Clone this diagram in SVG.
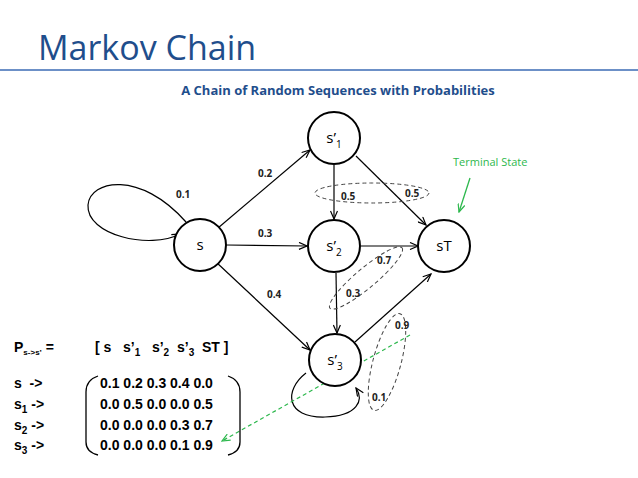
<svg xmlns="http://www.w3.org/2000/svg" width="638" height="478" viewBox="0 0 638 478">
<defs>
<marker id="a" markerWidth="10" markerHeight="8" refX="9" refY="4" orient="auto" markerUnits="userSpaceOnUse"><path d="M1,0.5 L9,4 L1,7.5" fill="none" stroke="#000" stroke-width="1.2"/></marker>
<marker id="g" markerWidth="10" markerHeight="8" refX="9" refY="4" orient="auto" markerUnits="userSpaceOnUse"><path d="M1,0.5 L9,4 L1,7.5" fill="none" stroke="#2db84d" stroke-width="1.2"/></marker>
</defs>
<style>
text{font-family:"Open Sans","Liberation Sans",sans-serif}
.n{fill:#fff;stroke:#000;stroke-width:2}
.nl{font-size:15px;text-anchor:middle}
.e{fill:none;stroke:#000;stroke-width:1.2;marker-end:url(#a)}
.p{font-size:10px;font-weight:bold;fill:#222}
.d{fill:none;stroke:#444;stroke-width:1;stroke-dasharray:4,3}
.m{font-size:14px;font-weight:bold;font-family:"Liberation Sans",sans-serif;white-space:pre}
</style>
<rect width="638" height="478" fill="#fff"/>
<text x="38" y="60" font-size="34" fill="#1f4e8c">Markov Chain</text>
<line x1="0" y1="70" x2="638" y2="70" stroke="#3b6bb5" stroke-width="1.5"/>
<text x="338" y="95" font-size="13" font-weight="bold" fill="#1f4e8c" text-anchor="middle">A Chain of Random Sequences with Probabilities</text>
<g id="connectors">
<path class="e" d="M186,222 C140,170 90,180 88,205 C86,235 150,250 180,234"/>
<line class="e" x1="218" y1="228" x2="310" y2="150"/>
<line class="e" x1="226" y1="245" x2="307" y2="246"/>
<line class="e" x1="216" y1="262" x2="310" y2="350"/>
<line class="e" x1="334" y1="165" x2="334" y2="219"/>
<line class="e" x1="356" y1="156" x2="426" y2="225"/>
<line class="e" x1="361" y1="246" x2="418" y2="246"/>
<line class="e" x1="336" y1="273" x2="337" y2="333"/>
<line class="e" x1="355" y1="342" x2="431" y2="274"/>
<path class="e" d="M306,373 C284,390 285,418 325,417 C358,416 364,400 356,388"/>
<line x1="470" y1="178" x2="459" y2="212" stroke="#2db84d" stroke-width="1.3" marker-end="url(#g)"/>
<line x1="410" y1="335" x2="222" y2="441" stroke="#2db84d" stroke-width="1.2" stroke-dasharray="4,3" marker-end="url(#g)"/>
</g>
<ellipse class="d" cx="372" cy="193" rx="57" ry="10"/>
<ellipse class="d" cx="366" cy="278" rx="47" ry="10" transform="rotate(-40 366 278)"/>
<ellipse class="d" cx="387" cy="362" rx="14" ry="50" transform="rotate(15 387 362)"/>
<g id="s"><circle class="n" cx="200" cy="245" r="26"/><text class="nl" x="200" y="250">s</text></g>
<g id="s1"><circle class="n" cx="334" cy="138" r="26"/><text class="nl" x="334" y="143">s’<tspan font-size="10" dy="5">1</tspan></text></g>
<g id="s2"><circle class="n" cx="334" cy="246" r="26"/><text class="nl" x="334" y="251">s’<tspan font-size="10" dy="5">2</tspan></text></g>
<g id="sT"><circle class="n" cx="444" cy="246" r="26"/><text class="nl" x="444" y="251">sT</text></g>
<g id="s3"><circle class="n" cx="335" cy="360" r="26"/><text class="nl" x="335" y="365">s’<tspan font-size="10" dy="5">3</tspan></text></g>
<text class="p" x="176" y="198">0.1</text>
<text class="p" x="258" y="177">0.2</text>
<text class="p" x="258" y="237">0.3</text>
<text class="p" x="267" y="298">0.4</text>
<text class="p" x="341" y="200">0.5</text>
<text class="p" x="405" y="197">0.5</text>
<text class="p" x="377" y="264">0.7</text>
<text class="p" x="346" y="297">0.3</text>
<text class="p" x="395" y="329">0.9</text>
<text class="p" x="372" y="401">0.1</text>
<text x="453" y="166" font-size="11" fill="#2db84d">Terminal State</text>
<text class="m" x="14" y="352">P<tspan font-size="8" dy="3">s-&gt;s’</tspan><tspan dy="-3"> =</tspan></text>
<text class="m" x="95" y="352">[ s   s’<tspan font-size="10" dy="4">1</tspan><tspan dy="-4">   s’</tspan><tspan font-size="10" dy="4">2</tspan><tspan dy="-4">  s’</tspan><tspan font-size="10" dy="4">3</tspan><tspan dy="-4">  ST ]</tspan></text>
<text class="m" x="14" y="388">s  -&gt;</text>
<text class="m" x="14" y="409">s<tspan font-size="10" dy="4">1</tspan><tspan dy="-4"> -&gt;</tspan></text>
<text class="m" x="14" y="430">s<tspan font-size="10" dy="4">2</tspan><tspan dy="-4"> -&gt;</tspan></text>
<text class="m" x="14" y="450">s<tspan font-size="10" dy="4">3</tspan><tspan dy="-4"> -&gt;</tspan></text>
<text class="m" x="100" y="388">0.1 0.2 0.3 0.4 0.0</text>
<text class="m" x="100" y="409">0.0 0.5 0.0 0.0 0.5</text>
<text class="m" x="100" y="430">0.0 0.0 0.0 0.3 0.7</text>
<text class="m" x="100" y="450">0.0 0.0 0.0 0.1 0.9</text>
<path d="M98,376 Q86,380 86,392 L86,442 Q86,452 98,455" fill="none" stroke="#000" stroke-width="1.3"/>
<path d="M228,376 Q240,380 240,392 L240,442 Q240,452 228,455" fill="none" stroke="#000" stroke-width="1.3"/>
</svg>
